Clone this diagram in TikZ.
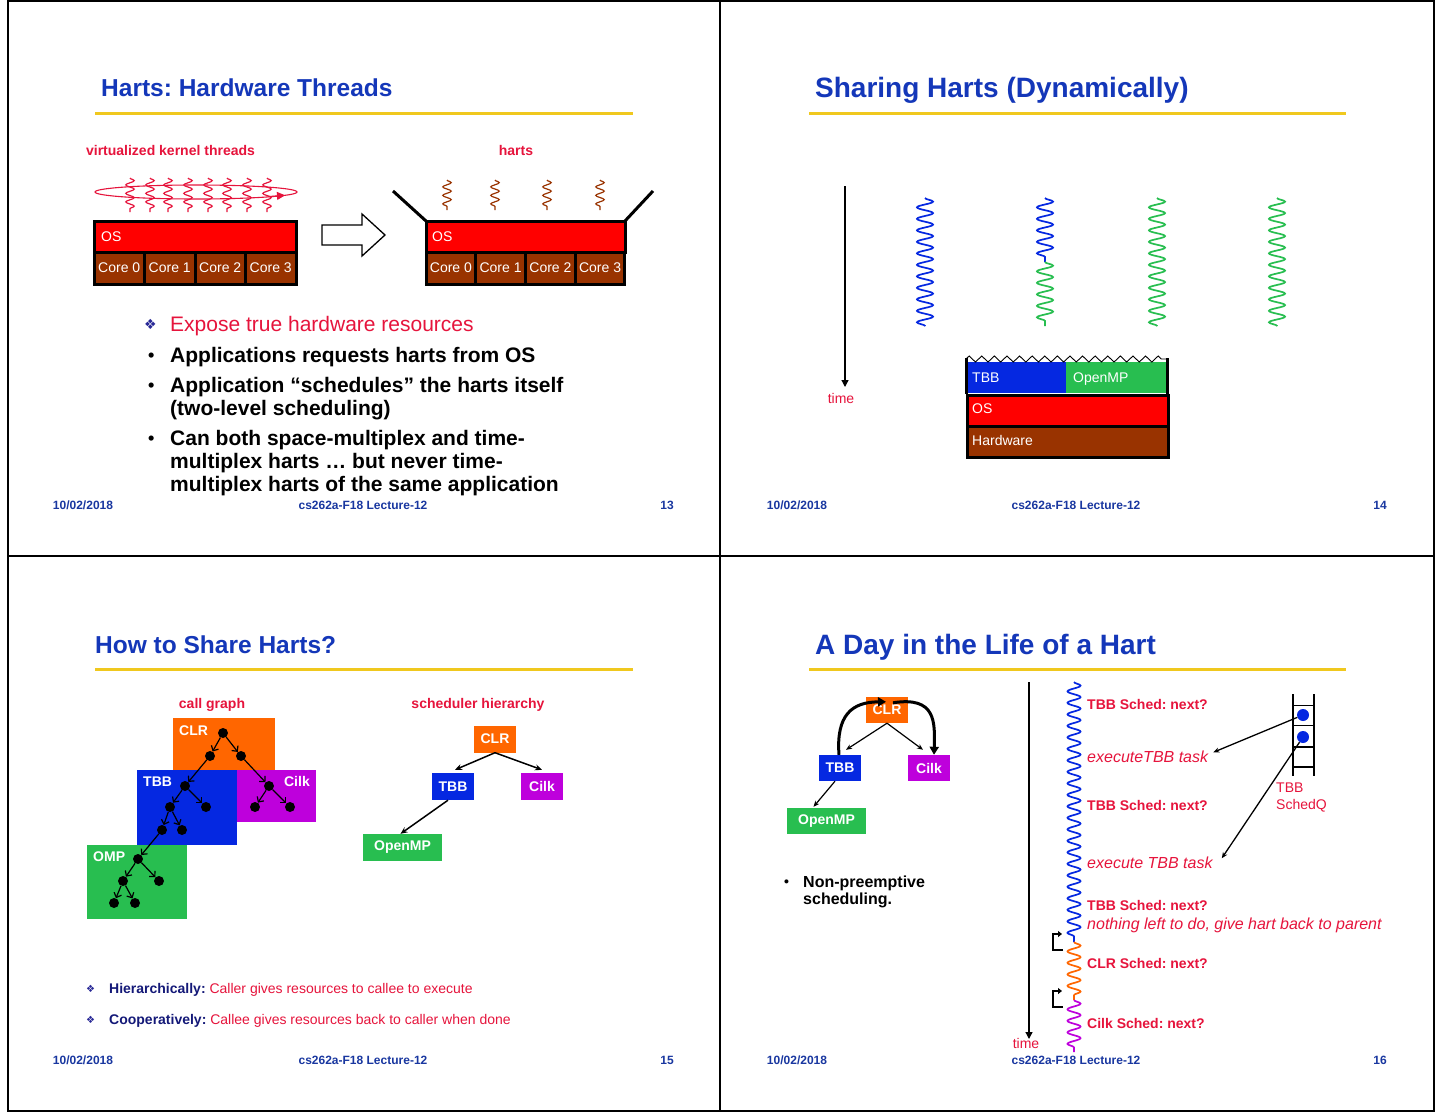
\documentclass[tikz,border=0pt]{standalone}
\usepackage{fontspec}
\setmainfont{Liberation Sans}
\newfontfamily\dingfont{DejaVu Sans}
\usetikzlibrary{arrows.meta,decorations.pathmorphing,calc}
\definecolor{titleblue}{RGB}{20,55,185}
\definecolor{footblue}{RGB}{25,55,160}
\definecolor{txtred}{RGB}{230,20,60}
\definecolor{osred}{RGB}{255,0,0}
\definecolor{corebrown}{RGB}{153,51,0}
\definecolor{tbbblue}{RGB}{5,40,225}
\definecolor{ompgreen}{RGB}{40,190,80}
\definecolor{clrorange}{RGB}{255,102,0}
\definecolor{cilkpurple}{RGB}{190,0,220}
\definecolor{lineyellow}{RGB}{240,200,30}
\definecolor{navyblue}{RGB}{20,25,120}
\definecolor{dingblue}{RGB}{40,40,150}
\frenchspacing
\begin{document}
\begin{tikzpicture}[x=1pt,y=-1pt,
 title/.style={anchor=base west,inner sep=0,text=titleblue,font=\fontsize{24.5}{29}\selectfont\bfseries},
 bigtitle/.style={anchor=base west,inner sep=0,text=titleblue,font=\fontsize{28}{32}\selectfont\bfseries},
 uline/.style={draw=lineyellow,line width=3},
 foot/.style={anchor=base,inner sep=0,text=footblue,font=\fontsize{12}{14}\selectfont\bfseries},
 redbold/.style={anchor=base,inner sep=0,text=txtred,font=\fontsize{14}{16}\selectfont\bfseries},
 wlbl/.style={anchor=base west,inner sep=0,text=white,font=\fontsize{14}{16}\selectfont},
 layer/.style={draw=black,line width=3,inner sep=0},
 corebox/.style={layer,fill=corebrown,minimum height=32,text=white,font=\fontsize{14}{16}\selectfont},
 thread/.style={line width=1.2,decorate,decoration={snake,segment length=8.5,amplitude=4.2}},
 coil/.style={line width=1.7,decorate,decoration={snake,segment length=11.5,amplitude=7}},
 bigtxt/.style={anchor=base west,inner sep=0,font=\fontsize{21}{23}\selectfont\bfseries},
 dot/.style={circle,fill=black,inner sep=0,minimum size=10},
 cg/.style={line width=1.2,-{Straight Barb[length=4,width=8]}},
 sbox/.style={inner sep=0,minimum width=42,minimum height=27,text=white,font=\fontsize{14}{16}\selectfont\bfseries},
 harr/.style={line width=1.5,-{Stealth[length=7,width=6]}},
 tarr/.style={line width=1.2,-{Stealth[length=6,width=5]}},
 thk/.style={line width=3,-{Triangle[length=8,width=9]}},
 ret/.style={line width=2,-{Triangle[length=4,width=6]}},
 sched/.style={anchor=base west,inner sep=0,text=txtred,font=\fontsize{14}{16}\selectfont\bfseries},
 task/.style={anchor=base west,inner sep=0,text=txtred,font=\fontsize{16}{18}\selectfont\itshape},
 plain/.style={inner sep=0,text=txtred,font=\fontsize{14}{16}\selectfont},
]
\fill[white] (0,0) rectangle (1440,1113);
\useasboundingbox (0,0) rectangle (1440,1113);
% frame
\draw[line width=1.3] (8,1) rectangle (1434,1111);
\draw[line width=1.3] (720,1) -- (720,1111);
\draw[line width=1.3] (8,556) -- (1434,556);

%================ slide 13
\node[title] (t13) at (101,97) {Harts: Hardware Threads};
\draw[uline] (95,114) -- (633,114);
\node[redbold] (vkt) at (170.5,155) {virtualized kernel threads};
\node[redbold] (hlab) at (516,155) {harts};
% virtualized threads
\draw[txtred,line width=1.1] (196,192) ellipse (101 and 7);
\draw[txtred,line width=1.1,-{Triangle[length=8,width=8]}] (268,196.6) -- (285,195.3);
\foreach \x in {130,150,168,188,208,227,247,267}
  \draw[txtred,thread] (\x,178) -- (\x,212);
% left stack
\node[layer,fill=osred,minimum width=202,minimum height=31] (osA) at (195,236.5) {};
\node[wlbl] (osAt) at (101,241) {OS};
\node[corebox,minimum width=50.5] (cA0) at (119.25,268) {Core 0};
\node[corebox,minimum width=50.5] (cA1) at (169.75,268) {Core 1};
\node[corebox,minimum width=50.5] (cA2) at (220.25,268) {Core 2};
\node[corebox,minimum width=50.5] (cA3) at (270.75,268) {Core 3};
% hollow arrow
\draw[line width=1.3,fill=white] (322,225) -- (362,225) -- (362,214) -- (385,235) -- (362,256) -- (362,245) -- (322,245) -- cycle;
% right stack
\draw[line width=3] (393,191) -- (426,221);
\draw[line width=3] (625,221) -- (653,191);
\node[layer,fill=osred,minimum width=199,minimum height=31] (osB) at (525.5,236.5) {};
\node[wlbl] (osBt) at (432,241) {OS};
\node[corebox,minimum width=49.75] (cB0) at (450.9,268) {Core 0};
\node[corebox,minimum width=49.75] (cB1) at (500.6,268) {Core 1};
\node[corebox,minimum width=49.75] (cB2) at (550.4,268) {Core 2};
\node[corebox,minimum width=49.75] (cB3) at (600.1,268) {Core 3};
\foreach \x in {447,495,547,600}
  \draw[corebrown,thread] (\x,180) -- (\x,210);
% bullets
\node[anchor=base west,inner sep=0,text=dingblue,font=\dingfont\fontsize{14}{16}\selectfont] (d1) at (144,329) {❖};
\node[anchor=base west,inner sep=0,text=txtred,font=\fontsize{21}{23}\selectfont] (l1) at (170,331) {Expose true hardware resources};
\node[anchor=base west,inner sep=0,font=\fontsize{18}{23}\selectfont\bfseries] (bu1) at (148,361) {•};
\node[bigtxt] (l2) at (170,362) {Applications requests harts from OS};
\node[anchor=base west,inner sep=0,font=\fontsize{18}{23}\selectfont\bfseries] (bu2) at (148,391) {•};
\node[bigtxt] (l3) at (170,392) {Application “schedules” the harts itself};
\node[bigtxt] (l4) at (170,415) {(two-level scheduling)};
\node[anchor=base west,inner sep=0,font=\fontsize{18}{23}\selectfont\bfseries] (bu3) at (148,444) {•};
\node[bigtxt] (l5) at (170,445) {Can both space-multiplex and time-};
\node[bigtxt] (l6) at (170,468) {multiplex harts … but never time-};
\node[bigtxt] (l7) at (170,491) {multiplex harts of the same application};
% footer
\node[foot] (f13a) at (83,509) {10/02/2018};
\node[foot] (f13b) at (363,509) {cs262a-F18 Lecture-12};
\node[foot] (f13c) at (667,509) {13};

%================ slide 14
\node[bigtitle] (t14) at (815,98) {Sharing Harts (Dynamically)};
\draw[uline] (809,114) -- (1346,114);
\coordinate (ts0) at (845,186);
\coordinate (ts1) at (845,387);
\draw[line width=1.3,-{Triangle[length=7,width=7]}] (ts0) -- (ts1);
\node[plain,anchor=base] (time14) at (841,403) {time};
\draw[tbbblue,coil,decoration={amplitude=8}] (925,198) -- (925,326);
\draw[tbbblue,coil,decoration={amplitude=8}] (1045,198) -- (1045,262);
\draw[ompgreen,coil,decoration={amplitude=8}] (1045,262) -- (1045,326);
\draw[ompgreen,coil,decoration={amplitude=8}] (1157,198) -- (1157,326);
\draw[ompgreen,coil,decoration={amplitude=8}] (1277,198) -- (1277,326);
% hardware stack
\node[fill=tbbblue,inner sep=0,minimum width=100,minimum height=31,anchor=north west] (tbbL) at (966,362) {};
\node[fill=ompgreen,inner sep=0,minimum width=101,minimum height=31,anchor=north west] (ompL) at (1066,362) {};
\node[layer,fill=osred,minimum width=201,minimum height=31.5,anchor=north west] (osL) at (966,393.5) {};
\node[layer,fill=corebrown,minimum width=201,minimum height=31,anchor=north west] (hwL) at (966,425) {};
\draw[line width=3] (966,358) -- (966,394);
\draw[line width=3] (1167,358) -- (1167,394);
\draw[line width=0.9,decorate,decoration={zigzag,segment length=12.6,amplitude=3}] (966,359) -- (1167,359);
\node[wlbl] (tbbT) at (972,382) {TBB};
\node[wlbl] (ompT) at (1073,382) {OpenMP};
\node[wlbl] (osT) at (972,413) {OS};
\node[wlbl] (hwT) at (972,445) {Hardware};
\node[foot] (f14a) at (797,509) {10/02/2018};
\node[foot] (f14b) at (1076,509) {cs262a-F18 Lecture-12};
\node[foot] (f14c) at (1380,509) {14};

%================ slide 15
\node[title] (t15) at (95,653) {How to Share Harts?};
\draw[uline] (95,669) -- (633,669);
\node[redbold] (cgl) at (212,708) {call graph};
\node[redbold] (shl) at (478,708) {scheduler hierarchy};
\node[fill=clrorange,inner sep=0,minimum width=102,minimum height=52,anchor=north west] (gCLR) at (173,718) {};
\node[fill=tbbblue,inner sep=0,minimum width=100,minimum height=75,anchor=north west] (gTBB) at (137,770) {};
\node[fill=cilkpurple,inner sep=0,minimum width=79,minimum height=52,anchor=north west] (gCilk) at (237,770) {};
\node[fill=ompgreen,inner sep=0,minimum width=100,minimum height=74,anchor=north west] (gOMP) at (87,845) {};
\node[wlbl,font=\fontsize{14}{16}\selectfont\bfseries] (gCLRt) at (179,735) {CLR};
\node[wlbl,font=\fontsize{14}{16}\selectfont\bfseries] (gTBBt) at (143,786) {TBB};
\node[wlbl,anchor=base east,font=\fontsize{14}{16}\selectfont\bfseries] (gCilkt) at (310,786) {Cilk};
\node[wlbl,font=\fontsize{14}{16}\selectfont\bfseries] (gOMPt) at (93,861) {OMP};
\node[dot] (a0) at (223,733) {};
\node[dot] (a1) at (210,756) {};
\node[dot] (a2) at (241,756) {};
\node[dot] (b0) at (185,786) {};
\node[dot] (b1) at (170,807) {};
\node[dot] (b2) at (206,807) {};
\node[dot] (b3) at (162,830) {};
\node[dot] (b4) at (182,830) {};
\node[dot] (c0) at (269,786) {};
\node[dot] (c1) at (255,807) {};
\node[dot] (c2) at (290,807) {};
\node[dot] (e0) at (138,859) {};
\node[dot] (e1) at (123,881) {};
\node[dot] (e2) at (159,881) {};
\node[dot] (e3) at (114,903) {};
\node[dot] (e4) at (135,903) {};
\foreach \u/\v in {a0/a1,a0/a2,a1/b0,a2/c0,b0/b1,b0/b2,b1/b3,b1/b4,b3/e0,e0/e1,e0/e2,e1/e3,e1/e4,c0/c1,c0/c2}
  \draw[cg] (\u) -- (\v);
% scheduler hierarchy
\node[sbox,fill=clrorange] (hCLR) at (495,739) {CLR};
\node[sbox,fill=tbbblue] (hTBB) at (453,786.5) {TBB};
\node[sbox,fill=cilkpurple] (hCilk) at (542,786.5) {Cilk};
\node[sbox,fill=ompgreen,minimum width=79] (hOMP) at (402.5,847.5) {OpenMP};
\draw[harr] (hCLR.south) -- ($(hTBB.north)+(2,-3)$);
\draw[harr] (hCLR.south) -- ($(hCilk.north)+(0,-3)$);
\draw[harr] ($(hTBB.south)+(-5,0)$) -- ($(hOMP.north)+(-2,0)$);
% bullets
\node[anchor=base west,inner sep=0,text=dingblue,font=\dingfont\fontsize{10}{12}\selectfont] (d2) at (86,992) {❖};
\node[anchor=base west,inner sep=0,text=txtred,font=\fontsize{14}{16}\selectfont] (h1) at (109,993) {{\color{navyblue}\bfseries Hierarchically:} Caller gives resources to callee to execute};
\node[anchor=base west,inner sep=0,text=dingblue,font=\dingfont\fontsize{10}{12}\selectfont] (d3) at (86,1023) {❖};
\node[anchor=base west,inner sep=0,text=txtred,font=\fontsize{14}{16}\selectfont] (h2) at (109,1024) {{\color{navyblue}\bfseries Cooperatively:} Callee gives resources back to caller when done};
\node[foot] (f15a) at (83,1064) {10/02/2018};
\node[foot] (f15b) at (363,1064) {cs262a-F18 Lecture-12};
\node[foot] (f15c) at (667,1064) {15};

%================ slide 16
\node[bigtitle] (t16) at (815,654) {A Day in the Life of a Hart};
\draw[uline] (809,669) -- (1346,669);
\node[sbox,fill=clrorange,minimum height=26] (dCLR) at (887,710) {CLR};
\node[sbox,fill=tbbblue,minimum height=26] (dTBB) at (840,768) {TBB};
\node[sbox,fill=cilkpurple,minimum height=26] (dCilk) at (929,768) {Cilk};
\node[sbox,fill=ompgreen,minimum width=79,minimum height=26] (dOMP) at (826.5,821) {OpenMP};
\draw[tarr] (dCLR.south) -- ($(dTBB.north)+(6,-5)$);
\draw[tarr] (dCLR.south) -- ($(dCilk.north)+(-6,-5)$);
\draw[tarr] ($(dTBB.south)+(-5,0)$) -- ($(dOMP.north)+(-13,-1)$);
\draw[thk] ($(dTBB.north)+(-1,0)$) .. controls (836,715) and (852,702) .. ($(dCLR.north)+(-1,5)$);
\draw[thk] ($(dCLR.north)+(6,6)$) .. controls (936,696) and (935,722) .. ($(dCilk.north)+(5,0)$);
\node[anchor=base west,inner sep=0,font=\fontsize{14}{18}\selectfont\bfseries] (bu4) at (784,886) {•};
\node[anchor=base west,inner sep=0,font=\fontsize{16}{18}\selectfont\bfseries] (np1) at (803,887) {Non-preemptive};
\node[anchor=base west,inner sep=0,font=\fontsize{16}{18}\selectfont\bfseries] (np2) at (803,904) {scheduling.};
% time line
\coordinate (tl0) at (1029,682);
\coordinate (tl1) at (1029,1039);
\draw[line width=1.3,-{Triangle[length=7,width=7]}] (tl0) -- (tl1);
\node[plain,anchor=base] (time16) at (1026,1048) {time};
% hart coil
\draw[tbbblue,coil,decoration={amplitude=6.5}] (1074,682) -- (1074,942);
\draw[clrorange,coil,decoration={amplitude=6.5}] (1074,942) -- (1074,1000);
\draw[cilkpurple,coil,decoration={amplitude=6.5}] (1074,1000) -- (1074,1052);
% texts
\node[sched] (s1) at (1087,709) {TBB Sched: next?};
\node[task] (x1) at (1087,762) {executeTBB task};
\node[sched] (s2) at (1087,810) {TBB Sched: next?};
\node[task] (x2) at (1087,868) {execute TBB task};
\node[sched] (s3) at (1087,910) {TBB Sched: next?};
\node[task] (x3) at (1087,929) {nothing left to do, give hart back to parent};
\node[sched] (s4) at (1087,968) {CLR Sched: next?};
\node[sched] (s5) at (1087,1028) {Cilk Sched: next?};
% return arrows
\draw[ret] (1063,950) -- (1053,950) -- (1053,934) -- (1062,934);
\draw[ret] (1063,1007) -- (1053,1007) -- (1053,991) -- (1062,991);
% sched queue
\draw[line width=2] (1293,694) -- (1293,776);
\draw[line width=2] (1314,694) -- (1314,776);
\draw[line width=1] (1293,705) -- (1314,705);
\draw[line width=1] (1293,725) -- (1314,725);
\draw[line width=2] (1293,747) -- (1314,747);
\draw[line width=2] (1293,767) -- (1314,767);
\node[circle,fill=tbbblue,inner sep=0,minimum size=12] (q1) at (1303,715) {};
\node[circle,fill=tbbblue,inner sep=0,minimum size=12] (q2) at (1303,737) {};
\node[plain,anchor=base west] (sq1) at (1276,792) {TBB};
\node[plain,anchor=base west] (sq2) at (1276,809) {SchedQ};
\draw[tarr,line width=1.3] (q1) -- ($(x1.east)+(5,-4)$);
\draw[tarr,line width=1.3] (q2) -- ($(x2.east)+(9,-4)$);
\node[foot] (f16a) at (797,1064) {10/02/2018};
\node[foot] (f16b) at (1076,1064) {cs262a-F18 Lecture-12};
\node[foot] (f16c) at (1380,1064) {16};
\end{tikzpicture}
\end{document}
